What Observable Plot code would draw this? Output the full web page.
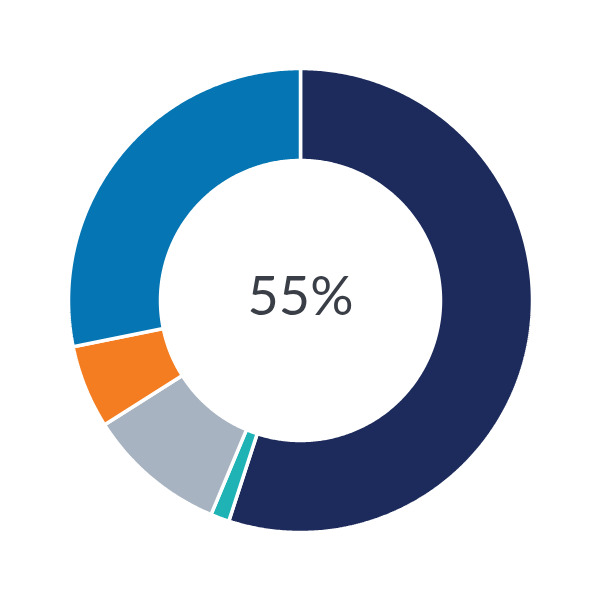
<!DOCTYPE html>
<html><head><meta charset="utf-8">
<script src="https://cdn.jsdelivr.net/npm/d3@7"></script>
<script src="https://cdn.jsdelivr.net/npm/@observablehq/plot@0.6"></script>
<style>html,body{margin:0;padding:0;background:#fff;}</style>
</head><body><div id="chart"></div>
<script>
const categories = ["A", "B", "C", "D", "E"];
const values = [55, 1.3, 9.7, 5.8, 28.2];
const colors = ["#1c2b5b", "#20b3b5", "#a8b3c1", "#f37d20", "#0576b3"];
const centerLabel = "55%";

const innerRatio = 140 / 232;
const pie = d3.pie().sort(null).value(d => d.value)(categories.map((c, i) => ({name: c, value: values[i]})));
function pt(r, a) { return [r * Math.sin(a), -r * Math.cos(a)]; }
function sector(a0, a1) {
  const n = Math.max(2, Math.ceil((a1 - a0) / (Math.PI / 360)));
  const ring = [];
  for (let k = 0; k <= n; k++) ring.push(pt(1, a0 + (a1 - a0) * k / n));
  for (let k = n; k >= 0; k--) ring.push(pt(innerRatio, a0 + (a1 - a0) * k / n));
  ring.push(ring[0]);
  return ring;
}
const features = pie.map(p => ({
  type: "Feature",
  properties: {name: p.data.name},
  geometry: {type: "Polygon", coordinates: [sector(p.startAngle, p.endAngle)]}
}));
const outline = {type: "Polygon", coordinates: [sector(0, 2 * Math.PI - 1e-6)]};

const chart = Plot.plot({
  width: 600, height: 600, margin: 0,
  projection: {type: "identity", domain: outline, inset: 68},
  color: {domain: categories, range: colors},
  marks: [
    Plot.geo(features, {fill: d => d.properties.name, stroke: "white", strokeWidth: 3.5, strokeLinejoin: "miter"}),
    Plot.text([centerLabel], {frameAnchor: "middle", text: d => d, fontSize: 54, fontWeight: 400, fill: "#3a3f47", fontFamily: "Lato", dy: -3})
  ]
});
document.getElementById("chart").appendChild(chart);
</script></body></html>
